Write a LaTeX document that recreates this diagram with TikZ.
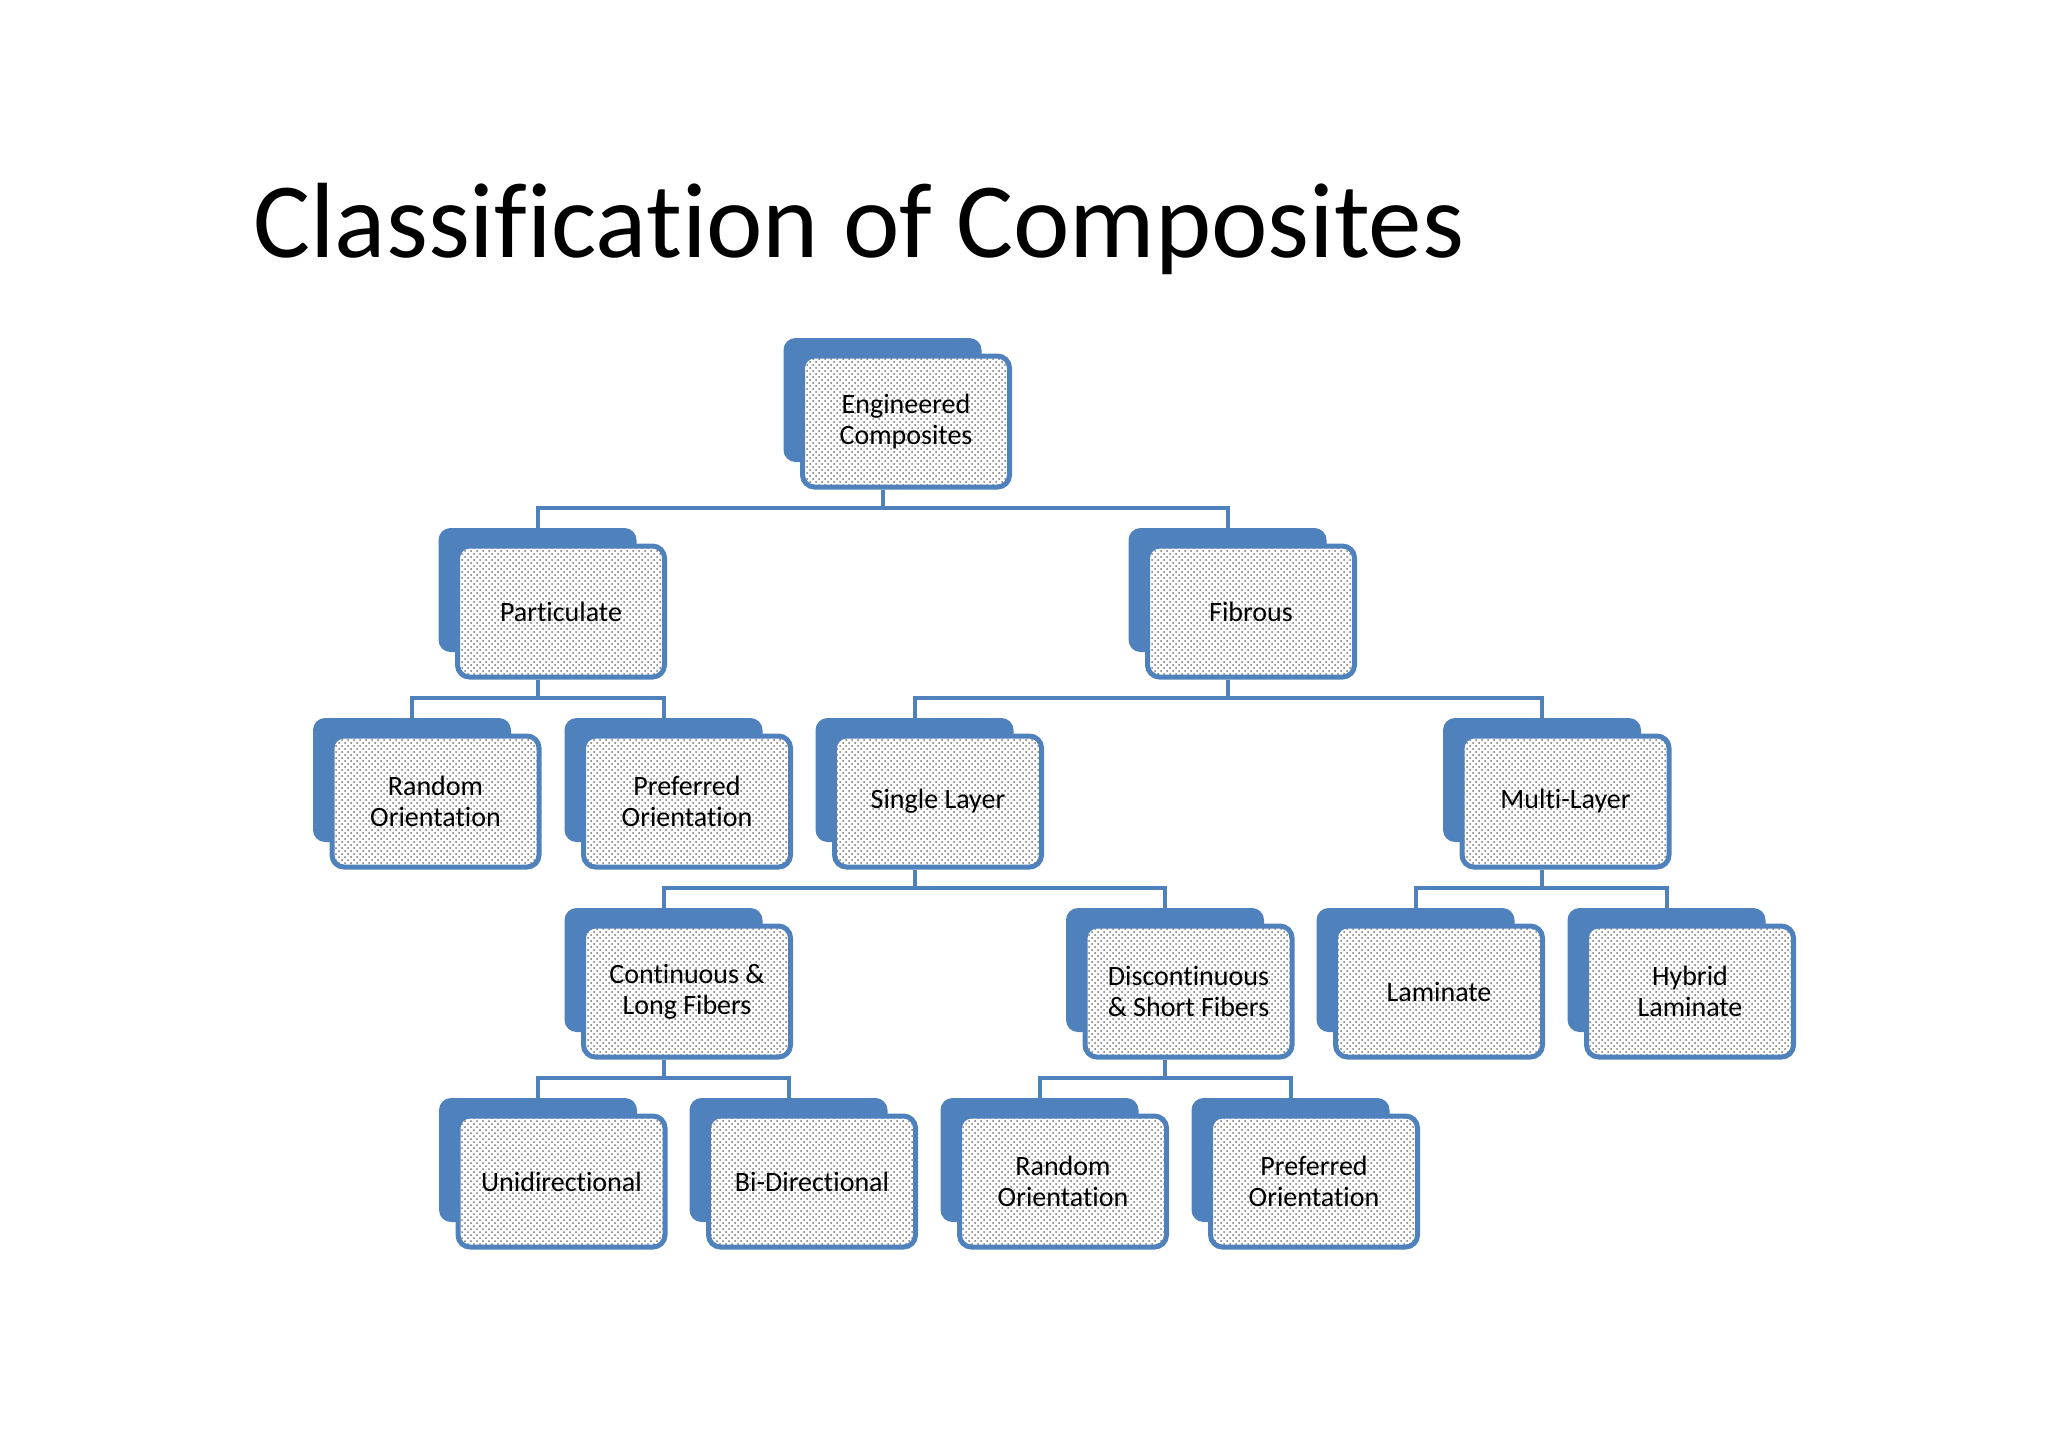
\documentclass[tikz,border=0pt]{standalone}
\usepackage{fontspec}
\setmainfont{Carlito}[RawFeature={-liga;-calt;-dlig;-clig}]
\usetikzlibrary{patterns}
\definecolor{cardblue}{RGB}{79,129,189}

\begin{document}
\begin{tikzpicture}[x=0.5pt,y=-0.5pt,
  back/.style={fill=cardblue, rounded corners=6pt, minimum width=99pt, minimum height=62pt, inner sep=0pt},
  card/.style={draw=cardblue, line width=2.5pt, rounded corners=6pt, preaction={fill=white}, pattern=crosshatch dots, pattern color=black!55, minimum width=103.5pt, minimum height=65.5pt, align=center, inner sep=0pt, font=\fontsize{14}{15.5}\selectfont},
  link/.style={draw=cardblue, line width=2pt},
]
\useasboundingbox (0,0) rectangle (2048,1448);
% title
\node[anchor=base west, inner sep=0pt, font=\fontsize{53.5}{60}\selectfont] (title) at (253,257) {Classification of Composites};
% level 1
\node[back] (eng-b) at (882.5,400) {};
\node[card] (eng) at (906,421.5) {Engineered\\Composites};
% level 2
\node[back] (part-b) at (537.5,590) {};
\node[card] (part) at (561,611.5) {Particulate};
\node[back] (fib-b) at (1227.5,590) {};
\node[card] (fib) at (1251,611.5) {Fibrous};
% level 3
\node[back] (rand1-b) at (412,780) {};
\node[card] (rand1) at (435.5,801.5) {Random\\Orientation};
\node[back] (pref1-b) at (663.5,780) {};
\node[card] (pref1) at (687,801.5) {Preferred\\Orientation};
\node[back] (single-b) at (914.5,780) {};
\node[card] (single) at (938,801.5) {Single Layer};
\node[back] (multi-b) at (1542,780) {};
\node[card] (multi) at (1565.5,801.5) {Multi-Layer};
% level 4
\node[back] (cont-b) at (663.5,970) {};
\node[card] (cont) at (687,991.5) {Continuous \&\\Long Fibers};
\node[back] (disc-b) at (1165,970) {};
\node[card] (disc) at (1188.5,991.5) {Discontinuous\\\& Short Fibers};
\node[back] (lam-b) at (1415.5,970) {};
\node[card] (lam) at (1439,991.5) {Laminate};
\node[back] (hyb-b) at (1666.5,970) {};
\node[card] (hyb) at (1690,991.5) {Hybrid\\Laminate};
% level 5
\node[back] (uni-b) at (538,1160) {};
\node[card] (uni) at (561.5,1181.5) {Unidirectional};
\node[back] (bi-b) at (788.5,1160) {};
\node[card] (bi) at (812,1181.5) {Bi-Directional};
\node[back] (rand2-b) at (1039.5,1160) {};
\node[card] (rand2) at (1063,1181.5) {Random\\Orientation};
\node[back] (pref2-b) at (1290.5,1160) {};
\node[card] (pref2) at (1314,1181.5) {Preferred\\Orientation};
% connectors
\draw[link] (eng.south -| eng-b) -- ++(0,18) -| (part-b.north);
\draw[link] (eng.south -| eng-b) -- ++(0,18) -| (fib-b.north);
\draw[link] (part.south -| part-b) -- ++(0,18) -| (rand1-b.north);
\draw[link] (part.south -| part-b) -- ++(0,18) -| (pref1-b.north);
\draw[link] (fib.south -| fib-b) -- ++(0,18) -| (single-b.north);
\draw[link] (fib.south -| fib-b) -- ++(0,18) -| (multi-b.north);
\draw[link] (single.south -| single-b) -- ++(0,18) -| (cont-b.north);
\draw[link] (single.south -| single-b) -- ++(0,18) -| (disc-b.north);
\draw[link] (multi.south -| multi-b) -- ++(0,18) -| (lam-b.north);
\draw[link] (multi.south -| multi-b) -- ++(0,18) -| (hyb-b.north);
\draw[link] (cont.south -| cont-b) -- ++(0,18) -| (uni-b.north);
\draw[link] (cont.south -| cont-b) -- ++(0,18) -| (bi-b.north);
\draw[link] (disc.south -| disc-b) -- ++(0,18) -| (rand2-b.north);
\draw[link] (disc.south -| disc-b) -- ++(0,18) -| (pref2-b.north);
\end{tikzpicture}
\end{document}
